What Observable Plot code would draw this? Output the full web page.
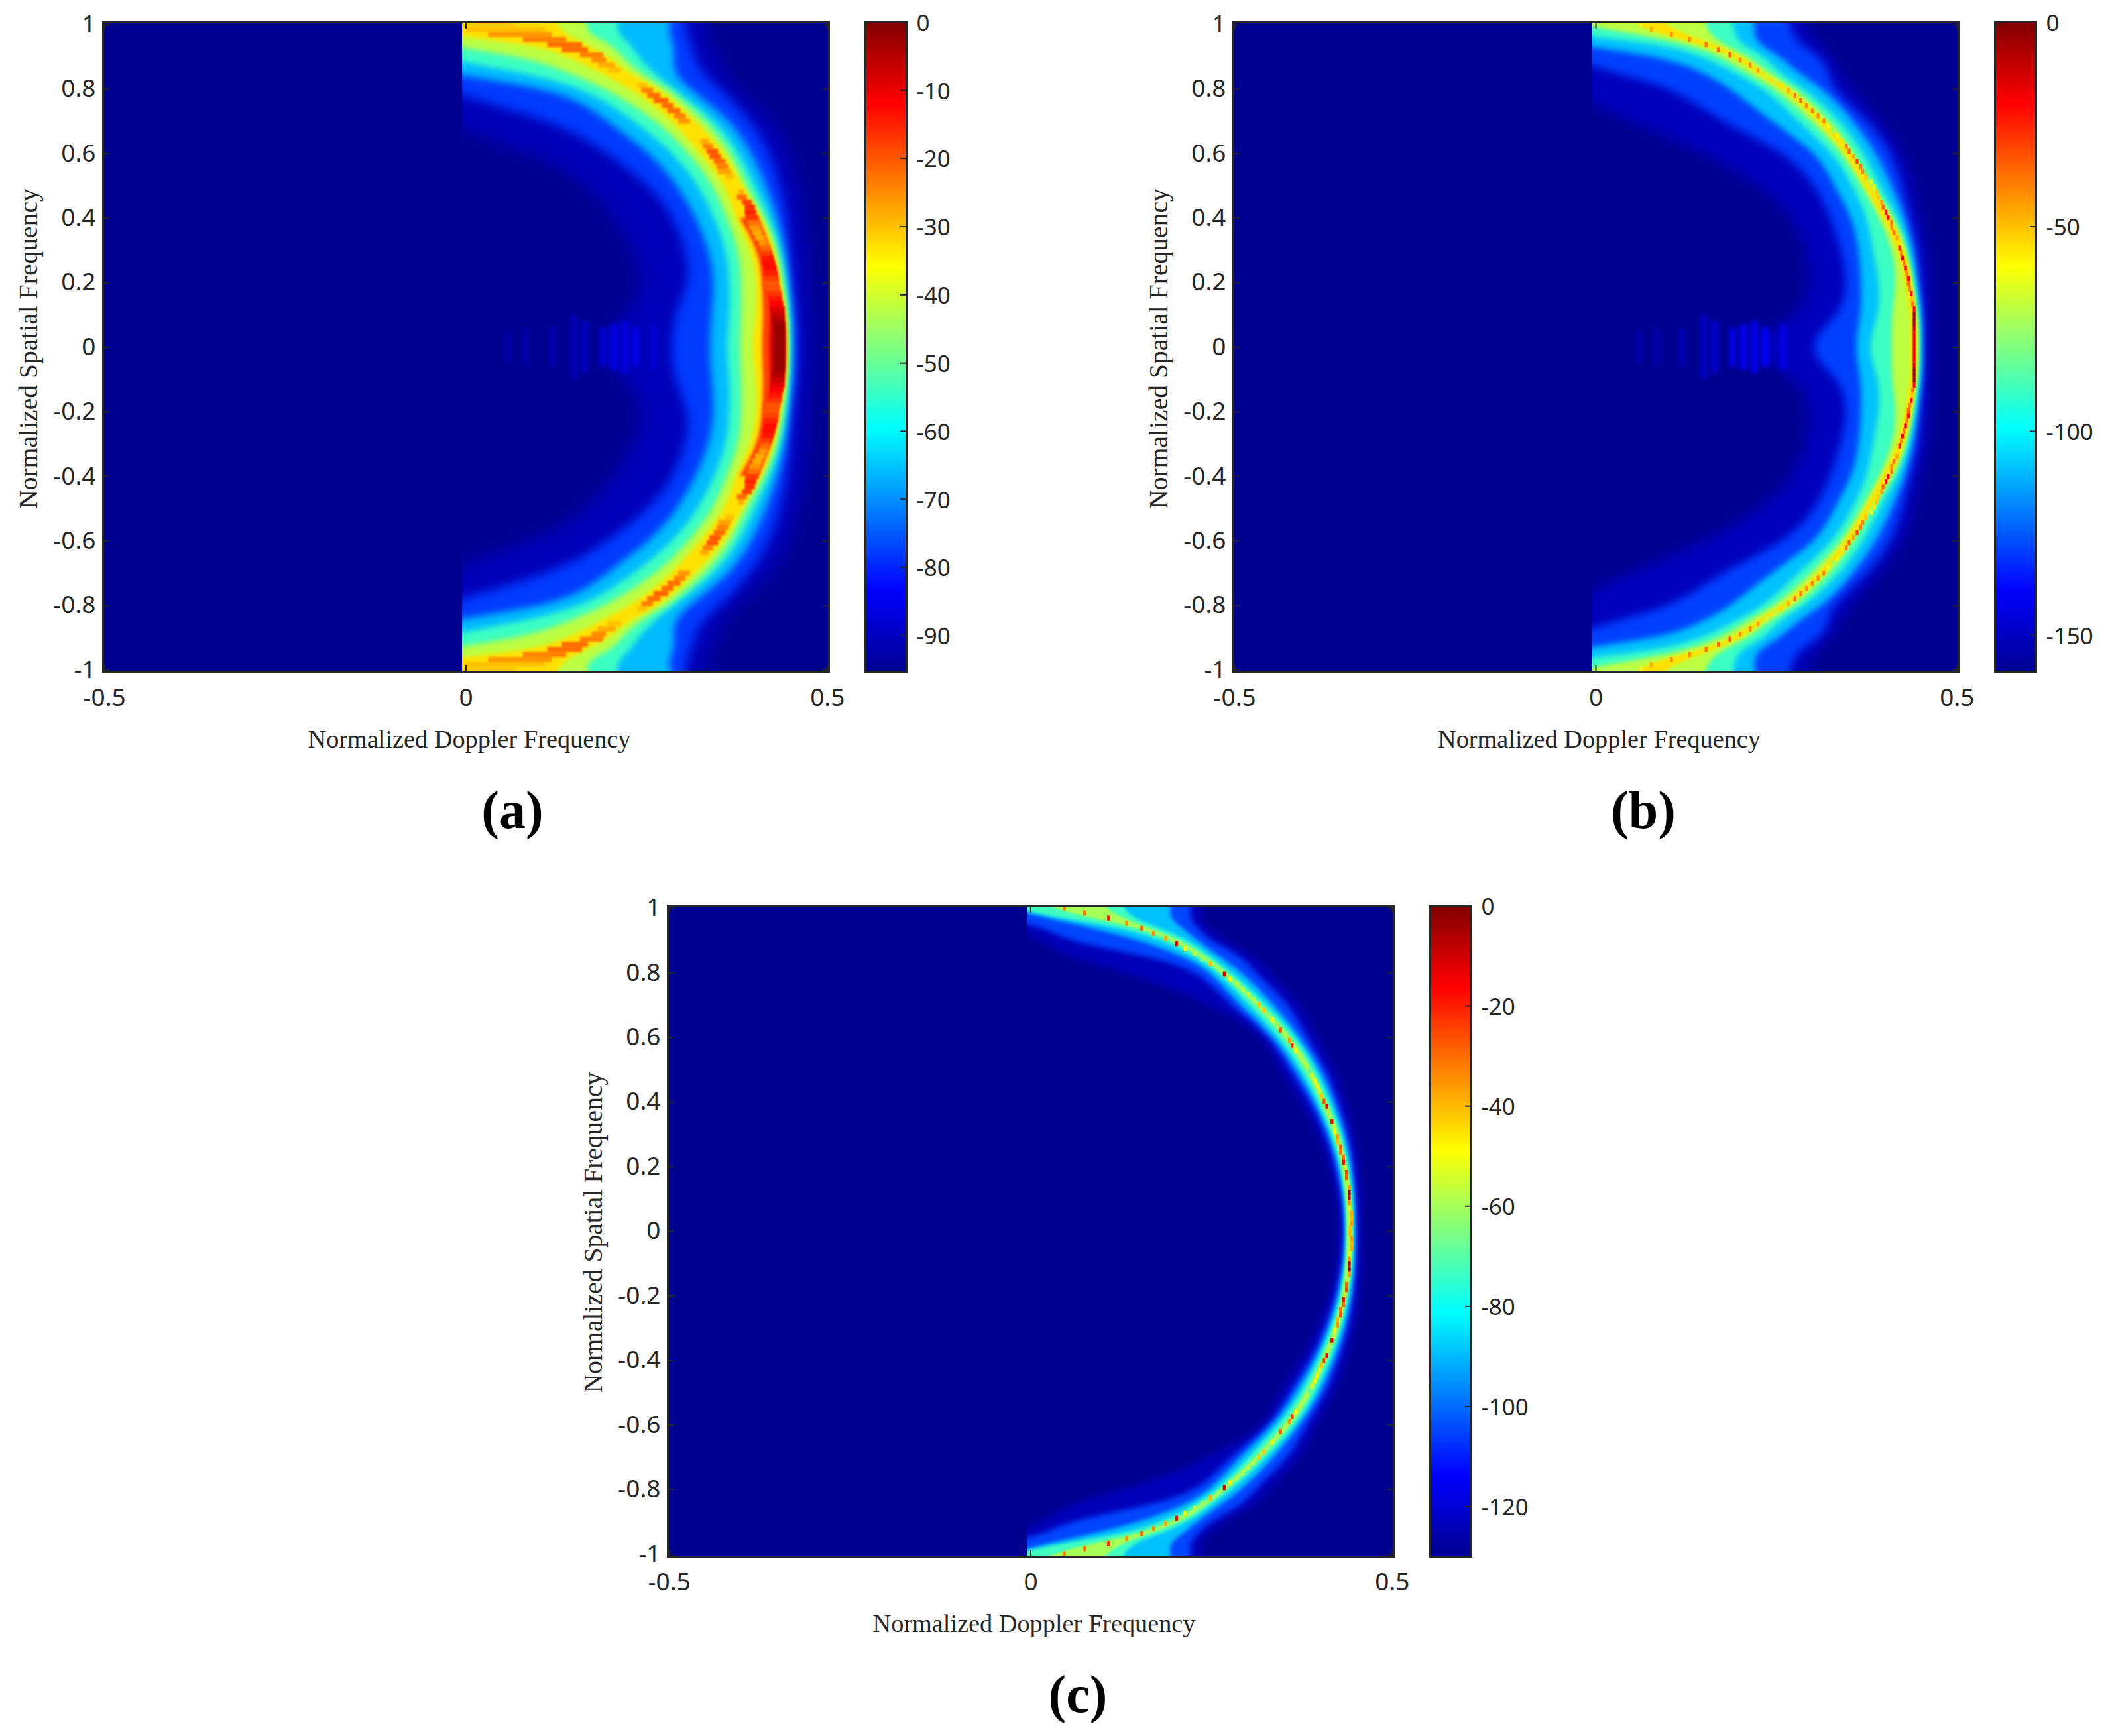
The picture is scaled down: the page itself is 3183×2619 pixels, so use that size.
<!DOCTYPE html>
<html><head><meta charset="utf-8">
<script src="https://cdn.jsdelivr.net/npm/d3@7"></script>
<script src="https://cdn.jsdelivr.net/npm/@observablehq/plot@0.6"></script>
<style>
html,body{margin:0;padding:0;background:#fff}
#page{position:relative;width:3183px;height:2619px;overflow:hidden;background:#fff}
#page>div,#page>svg,#page>figure{position:absolute;margin:0}
.cap{font-family:"Liberation Serif",serif;font-weight:700;font-size:80px;line-height:1;color:#000;transform:translate(-50%,-50%)}
</style></head><body><div id="page"></div>
<script>
// axis ticks and titles
const xTicks=[-0.5,0,0.5];
const yTicks=[-1,-0.8,-0.6,-0.4,-0.2,0,0.2,0.4,0.6,0.8,1];
const xTitle="Normalized Doppler Frequency";
const yTitle="Normalized Spatial Frequency";
const barTicksA=[0,-10,-20,-30,-40,-50,-60,-70,-80,-90];
const barTicksB=[0,-50,-100,-150];
const barTicksC=[0,-20,-40,-60,-80,-100,-120];
const jetStops=[0,0.125,0.375,0.625,0.875,1];
const jetColors=["rgb(0,0,143)","rgb(0,0,255)","rgb(0,255,255)","rgb(255,255,0)","rgb(255,0,0)","rgb(128,0,0)"];

// spatial-frequency rows at which the iso-dB edges were read (upper half; the lower half mirrors it)
const fsRows=[1.01,0.97,0.94,0.9,0.85,0.8,0.7,0.6,0.5,0.4,0.3,0.2,0.1,0];

// Panel (a): iso-dB level, band tint, softness, then inner and outer Doppler edge per row
const levelsA=[-90,-84,-72,-60,-48,-36,-24,-12];
const tintA=[-91,-78,-66,-54,-42,-33,-18,-8];
const softA=[12,8,6,5,4,3,2.5,2];
const innerA=[
[0,0,0,0,0,0,0,.095,.172,.203,.232,.246,.224,.176],
[0,0,0,0,0,0,.13,.196,.256,.288,.305,.31,.288,.284],
[0,0,0,0,0,.137,.196,.256,.294,.319,.337,.344,.34,.337],
[0,0,0,0,.084,.168,.235,.288,.323,.344,.361,.365,.365,.36],
[0,0,0,.084,.144,.196,.267,.31,.344,.361,.379,.382,.382,.379],
[0,0,.09,.144,.186,.23,.288,.324,.361,.372,.396,.403,.402,.396],
[null,null,null,null,null,null,null,null,null,.379,.405,.41,.412,.409],
[null,null,null,null,null,null,null,null,null,null,.412,.421,.422,.419]];
const outerA=[
[.333,.333,.34,.35,.358,.375,.431,.449,.461,.47,.474,.475,.479,.479],
[.305,.305,.312,.316,.326,.351,.396,.421,.435,.444,.449,.452,.458,.459],
[.284,.28,.288,.288,.288,.309,.368,.396,.416,.431,.442,.447,.452,.453],
[.21,.21,.228,.238,.26,.288,.347,.379,.40,.421,.436,.443,.448,.449],
[.168,.168,.2,.217,.239,.28,.333,.368,.388,.414,.431,.438,.445,.446],
[.123,.137,.165,.2,.224,.27,.319,.36,.382,.41,.428,.435,.444,.445],
[null,null,null,null,null,null,null,null,null,.405,.424,.431,.442,.443],
[null,null,null,null,null,null,null,null,null,null,.422,.43,.44,.442]];
// hot ridge of (a), one entry per image row from fs 1 to just above fs 0: centre, half width, dB
const ridgeFdA=[.035,.055,.075,.109,.137,.151,.174,.184,.195,.205,null,null,.244,.251,.26,.27,.279,.288,.296,.302,null,null,null,.33,.335,.341,.345,.351,.355,.358,.365,null,null,.381,.382,.389,.393,.394,.396,.398,.40,.403,.407,.411,.414,.416,.418,.419,.421,.422,.423,.423,.425,.427,.428,.43,.431,.432,.432,.434,.434,.434,.434,.434];
const ridgeHalfA=[.035,.055,.044,.03,.024,.018,.016,.01,.012,.009,null,null,.007,.008,.009,.01,.008,.009,.008,.008,null,null,null,.006,.007,.008,.008,.008,.008,.009,.006,null,null,.004,.007,.007,.007,.008,.009,.009,.008,.007,.007,.006,.007,.007,.008,.009,.009,.010,.010,.010,.010,.010,.009,.009,.010,.009,.009,.008,.008,.008,.008,.008];
const ridgeDbA=[-31,-30,-26,-24,-22,-22,-24,-25,-28,-30,null,null,-30,-24,-22,-21,-22,-22,-24,-26,null,null,null,-28,-24,-20,-20,-22,-24,-27,-30,null,null,-28,-22,-18,-16,-15,-17,-22,-26,-28,-28,-26,-22,-18,-14,-13,-13,-15,-18,-20,-20,-17,-14,-12,-9,-7,-5,-3,-2,-2,-2,-2];

// Panel (b)
const levelsB=[-149,-139,-119,-99,-80,-60];
const tintB=[-151,-129,-109,-90,-70,-55];
const softB=[10,7,5,4,3,2];
const innerB=[
[0,0,0,0,0,0,.046,.151,.228,.274,.291,.298,.284,.2],
[0,0,0,0,.028,.112,.172,.267,.305,.326,.34,.349,.34,.284],
[0,0,0,.098,.15,.189,.242,.309,.33,.356,.365,.368,.368,.358],
[0,0,.09,.15,.193,.235,.281,.33,.356,.377,.384,.393,.393,.375],
[0,.056,.126,.175,.21,.25,.3,.342,.368,.393,.412,.417,.41,.41],
[.046,.088,.144,.193,.221,.261,.31,.347,.373,.398,.42,.428,.437,.435]];
const outerB=[
[.29,.298,.309,.326,.34,.354,.396,.428,.442,.449,.461,.463,.465,.465],
[.267,.274,.28,.312,.323,.326,.379,.41,.424,.435,.447,.449,.454,.454],
[.22,.22,.224,.256,.28,.316,.358,.389,.41,.428,.44,.445,.451,.451],
[.19,.193,.2,.235,.253,.291,.34,.372,.393,.419,.435,.442,.449,.45],
[.15,.158,.175,.214,.239,.279,.326,.36,.383,.414,.431,.439,.445,.447],
[.088,.123,.161,.205,.23,.27,.319,.356,.379,.41,.429,.438,.445,.446]];

// Panel (c)
const levelsC=[-122,-114,-97,-81,-65];
const tintC=[-124,-105,-89,-73,-60];
const softC=[6,4,3,2.5,1.5];
const innerC=[
[0,0,0,.023,.04,.135,.251,.328,.342,.374,.398,.414,.425,.428],
[0,0,.023,.045,.167,.237,.275,.333,.358,.387,.408,.422,.431,.434],
[0,.02,.082,.153,.212,.251,.289,.338,.367,.393,.413,.426,.434,.436],
[0,.037,.125,.184,.226,.26,.302,.345,.375,.398,.417,.429,.436,.437],
[.009,.082,.147,.196,.234,.265,.312,.352,.382,.402,.421,.431,.437,.438]];
const outerC=[
[.24,.233,.247,.268,.314,.331,.377,.395,.423,.437,.449,.456,.458,.459],
[.223,.219,.23,.247,.293,.31,.36,.381,.41,.426,.44,.447,.451,.451],
[.195,.191,.209,.23,.261,.293,.338,.373,.402,.42,.435,.444,.448,.449],
[.125,.139,.177,.219,.249,.279,.328,.368,.395,.415,.431,.441,.446,.447],
[.096,.125,.161,.209,.242,.273,.319,.363,.389,.41,.428,.438,.444,.446]];

// Hottest cell of each image row in (b) and (c), top row first
const ridgeFdB=[.063,.077,.105,.130,.153,.170,.186,.200,.214,.225,.237,.249,.257,.267,.276,.284,.292,.300,.308,.316,.322,.328,.335,.341,.347,.351,.357,.362,.367,.370,.374,.382,.386,.389,.392,.396,.398,.402,.405,.410,.410,.413,.417,.420,.421,.423,.425,.427,.429,.431,.433,.433,.435,.437,.438,.439,.441,.441,.441,.441,.441,.441,.441,.441];
const ridgeDbB=[-62,-48,-43,-42,-38,-36,-34,-42,-42,-45,-68,-70,-55,-48,-38,-38,-42,-40,-42,-42,-64,-74,-58,-55,-38,-36,-46,-30,-38,-40,-50,-62,-58,-52,-52,-45,-35,-22,-18,-38,-42,-38,-46,-55,-26,-42,-18,-38,-18,-40,-20,-35,-40,-22,-50,-38,-20,-6,-4,-4,-14,-18,-18,-18];
const ridgeFdC=[.047,.075,.108,.133,.154,.170,.187,.202,.214,.227,.237,.249,.260,.268,.276,.286,.294,.302,.309,.316,.323,.330,.335,.342,.346,.353,.358,.362,.367,.373,.377,.382,.386,.390,.394,.397,.400,.403,.406,.410,.412,.414,.417,.421,.421,.425,.425,.429,.429,.433,.433,.435,.437,.437,.439,.441,.441,.441,.441,.441,.444,.444,.444,.442];
const ridgeDbC=[-33,-30,-20,-35,-28,-35,-38,-14,-48,-58,-62,-40,-62,-10,-48,-58,-58,-58,-58,-42,-42,-65,-48,-62,-28,-58,-35,-22,-48,-58,-60,-58,-70,-55,-50,-48,-55,-42,-26,-12,-58,-60,-14,-58,-50,-35,-40,-26,-30,-30,-15,-55,-25,-28,-58,-36,-2,-7,-35,-52,-38,-40,-35,-40];

// Faint clutter stripes around fs 0
const noiseFd=[.06,.084,.12,.15,.165,.19,.205,.22,.235,.26];
const noiseSpan=[.05,.06,.06,.1,.08,.06,.07,.08,.06,.07];
const noiseDbA=[-93,-93,-92,-91,-90,-88,-86,-87,-86,-88];
const noiseDbB=[-154,-154,-152,-150,-147,-144,-141,-142,-140,-144];

const DARK="#262626";
const cellW=0.00196, cellH=1/127;

function bandRows(l,tint,inner,outer){
  const fill=tint[l];
  const down=fsRows.map((fs,r)=>({fill,fs,x1:inner[l][r]===0?-0.05:inner[l][r],x2:outer[l][r]})).filter(d=>d.x2!==null);
  if(down[0].fs===fsRows[0]) down.unshift({...down[0],fs:1.08});
  const up=down.slice().reverse().filter(d=>d.fs!==0).map(d=>({...d,fs:-d.fs}));
  return [...down,...up];
}
function ridgeRows(fd,db,half){
  const out=[];
  fd.forEach((x,i)=>{
    if(x===null) return;
    const fs=1-2*i/127, h=half?half[i]:cellW;
    out.push({x,h,fs,db:db[i]},{x,h,fs:-fs,db:db[i]});
  });
  return out;
}
function noiseRows(db){
  return noiseFd.map((x,i)=>({x,span:noiseSpan[i],db:db[i]}));
}
function colorScale(min){
  return {type:"linear",domain:jetStops.map(t=>min+t*(0-min)),range:jetColors,clamp:true};
}

const page=document.getElementById("page");
function place(el,left,top){el.style.left=left+"px";el.style.top=top+"px";page.appendChild(el);}

function panel(cfg){
  const M={l:160,r:12,t:12,b:130};
  const w=cfg.right-cfg.left, h=cfg.bottom-cfg.top;
  const marks=[Plot.frame({fill:"rgb(0,0,143)"})];
  cfg.levels.forEach((_,l)=>{
    marks.push(Plot.areaX(bandRows(l,cfg.tint,cfg.inner,cfg.outer),{x1:"x1",x2:"x2",y:"fs",fill:"fill",curve:"basis",clip:true}));
  });
  if(cfg.noise) marks.push(Plot.rect(noiseRows(cfg.noise),{x1:d=>d.x-.005,x2:d=>d.x+.005,y1:d=>-d.span,y2:d=>d.span,fill:"db",clip:true}));
  marks.push(Plot.rect([cfg.min],{x1:-.502,x2:-.005,y1:-1.0077,y2:1.0077,fill:d=>d}));
  marks.push(Plot.rect(ridgeRows(cfg.ridge[0],cfg.ridge[1],cfg.ridge[2]),{x1:d=>d.x-d.h,x2:d=>d.x+d.h,y1:d=>d.fs-cellH,y2:d=>d.fs+cellH,fill:"db",clip:true}));
  const style={stroke:DARK,strokeWidth:2,strokeOpacity:1};
  const text={fill:DARK,fontSize:37,fontFamily:"'Noto Sans',sans-serif"};
  marks.push(
    Plot.frame({stroke:DARK,strokeWidth:3}),
    Plot.axisX({ticks:xTicks,anchor:"bottom",label:null,tickSize:-10,tickPadding:34,tickFormat:d=>String(d),...style,...text}),
    Plot.axisX({ticks:xTicks,anchor:"top",label:null,tickSize:-10,tickFormat:()=>"",...style}),
    Plot.axisY({ticks:yTicks,anchor:"left",label:null,tickSize:-10,tickPadding:21,tickFormat:d=>String(d),...style,...text}),
    Plot.axisY({ticks:yTicks,anchor:"right",label:null,tickSize:-10,tickFormat:()=>"",...style}),
    Plot.text([xTitle],{frameAnchor:"bottom",dy:101,dx:5,lineAnchor:"middle",textAnchor:"middle",fill:DARK,fontSize:38.3,fontFamily:"'Liberation Serif',serif"}),
    Plot.text([yTitle],{frameAnchor:"left",dx:-112,dy:2,rotate:-90,lineAnchor:"middle",textAnchor:"middle",fill:DARK,fontSize:39.6,fontFamily:"'Liberation Serif',serif"})
  );
  const svg=Plot.plot({
    width:w+M.l+M.r,height:h+M.t+M.b,marginLeft:M.l,marginRight:M.r,marginTop:M.t,marginBottom:M.b,
    style:{background:"transparent",overflow:"visible"},
    x:{domain:[-.502,.502]},y:{domain:[-1.0077,1.0077]},color:colorScale(cfg.min),marks
  });
  svg.querySelectorAll('g[aria-label="area"]').forEach((g,l)=>{g.style.filter=`blur(${cfg.soft[l]}px)`;});
  const rects=[...svg.querySelectorAll('g[aria-label="rect"]')];
  if(cfg.noise) rects[0].style.filter="blur(3px)";
  if(cfg.ridgeSoft) rects[rects.length-1].style.filter=`blur(${cfg.ridgeSoft}px)`;
  place(svg,cfg.left-M.l,cfg.top-M.t);

  // colour bar
  const step=(0-cfg.min)/256;
  const bar=d3.range(cfg.min,0,step);
  const bw=62,M2={l:4,r:140,t:12,b:12};
  const cb=Plot.plot({
    width:bw+M2.l+M2.r,height:h+M2.t+M2.b,marginLeft:M2.l,marginRight:M2.r,marginTop:M2.t,marginBottom:M2.b,
    style:{background:"transparent",overflow:"visible"},
    x:{domain:[0,1],axis:null},y:{domain:[cfg.min,0]},color:colorScale(cfg.min),
    marks:[
      Plot.rect(bar,{x1:0,x2:1,y1:d=>d,y2:d=>Math.min(0,d+step*1.6),fill:d=>d+step/2}),
      Plot.frame({stroke:DARK,strokeWidth:3}),
      Plot.axisY({ticks:cfg.barTicks,anchor:"right",label:null,tickSize:-10,tickFormat:()=>"",...style}),
      Plot.axisY({ticks:cfg.barTicks,anchor:"right",label:null,tickSize:0,tickPadding:15,dy:2,tickFormat:d=>String(d),fill:DARK,fontSize:35,fontFamily:"'Noto Sans',sans-serif"})
    ]
  });
  place(cb,cfg.right+55-M2.l,cfg.top-M2.t);

  const c=document.createElement("div");
  c.className="cap";c.textContent=cfg.caption;
  place(c,cfg.capX,cfg.capY);
}

panel({left:155,right:1250,top:33,bottom:1014,min:-95.4,barTicks:barTicksA,levels:levelsA,tint:tintA,soft:softA,inner:innerA,outer:outerA,noise:noiseDbA,ridge:[ridgeFdA,ridgeDbA,ridgeHalfA],ridgeSoft:1.5,caption:"(a)",capX:773,capY:1222});
panel({left:1860,right:2954,top:33,bottom:1014,min:-159,barTicks:barTicksB,levels:levelsB,tint:tintB,soft:softB,inner:innerB,outer:outerB,noise:noiseDbB,ridge:[ridgeFdB,ridgeDbB,null],ridgeSoft:0,caption:"(b)",capX:2479,capY:1222});
panel({left:1007,right:2102,top:1366,bottom:2348,min:-130,barTicks:barTicksC,levels:levelsC,tint:tintC,soft:softC,inner:innerC,outer:outerC,ridge:[ridgeFdC,ridgeDbC,null],ridgeSoft:0,caption:"(c)",capX:1626,capY:2556});
</script></body></html>
